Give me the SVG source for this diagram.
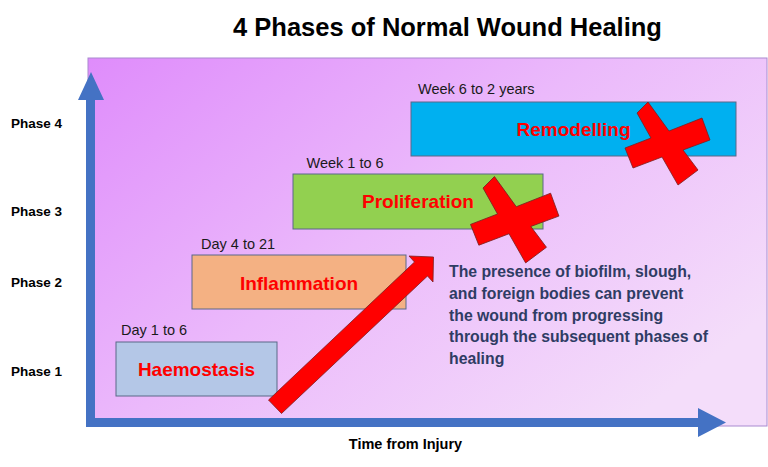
<svg xmlns="http://www.w3.org/2000/svg" width="768" height="467" viewBox="0 0 768 467">
<style>
.lbl{font-family:"Liberation Sans",Arial,sans-serif;font-weight:bold;fill:#000;}
.small{font-family:"Liberation Sans",Arial,sans-serif;font-size:14.5px;fill:#1a1a1a;}
.phase{font-family:"Liberation Sans",Arial,sans-serif;font-weight:bold;font-size:19px;fill:#ff0000;text-anchor:middle;}
.box{stroke:#5b6987;stroke-width:1;}
.note{font-family:"Liberation Sans",Arial,sans-serif;font-weight:bold;font-size:15.8px;fill:#2f3c64;}
.axis{fill:#4472c4;}
.red{fill:#ff0000;stroke:#7a2020;stroke-width:0.8;}
</style>
<defs>
<linearGradient id="bg" x1="0" y1="0" x2="1" y2="0.7">
<stop offset="0" stop-color="#df8cfb"/>
<stop offset="0.5" stop-color="#ebb9fb"/>
<stop offset="1" stop-color="#f4ddfa"/>
</linearGradient>
<path id="cross" d="M0,0 L11,-11 L32,18 L65,5 L73,27 L46,37 L61,57 L41,72 L25,44 L-4,55 L-12,35 L14,25 Z"/>
</defs>
<rect width="768" height="467" fill="#ffffff"/>
<text class="lbl" x="447.5" y="36" font-size="25.5" text-anchor="middle">4 Phases of Normal Wound Healing</text>
<rect id="panel" x="88" y="58" width="679" height="368" fill="url(#bg)" stroke="#a98ad0" stroke-width="1"/>
<g id="phase-labels">
<text class="lbl" x="11" y="128" font-size="13.5">Phase 4</text>
<text class="lbl" x="11" y="216" font-size="13.5">Phase 3</text>
<text class="lbl" x="11" y="287" font-size="13.5">Phase 2</text>
<text class="lbl" x="11" y="376" font-size="13.5">Phase 1</text>
</g>
<text class="lbl" x="405.5" y="449" font-size="14.5" text-anchor="middle">Time from Injury</text>
<g id="haemostasis">
<rect class="box" x="116" y="342" width="161" height="54" fill="#b4c7e7"/>
<text class="small" x="121" y="335">Day 1 to 6</text>
<text class="phase" x="196.5" y="376">Haemostasis</text>
</g>
<g id="inflammation">
<rect class="box" x="192" y="255" width="214" height="54" fill="#f4b183"/>
<text class="small" x="201" y="249">Day 4 to 21</text>
<text class="phase" x="299" y="290">Inflammation</text>
</g>
<g id="proliferation">
<rect class="box" x="293" y="174" width="250" height="55" fill="#92d050"/>
<text class="small" x="306.5" y="168">Week 1 to 6</text>
<text class="phase" x="418" y="208">Proliferation</text>
</g>
<g id="remodelling">
<rect class="box" x="411" y="102" width="325" height="54" fill="#00b0f0"/>
<text class="small" x="418" y="94">Week 6 to 2 years</text>
<text class="phase" x="573.5" y="136">Remodelling</text>
</g>
<g id="axes">
<path class="axis" d="M86,427 L86,100 L78,100 L91,72 L104,100 L95,100 L95,418 L698,418 L698,408 L726,422.5 L698,437 L698,427 Z"/>
</g>
<g id="crosses">
<use href="#cross" class="red" transform="translate(637,113)"/>
<use href="#cross" class="red" transform="translate(483,188) scale(1.04)"/>
</g>
<g id="connectors">
<path class="red" d="M268.5,400 L414.5,262 L409,256 L433.5,257 L433,282 L427.5,276 L281.5,413.5 Z"/>
</g>
<g id="note">
<text class="note" x="449" y="277">The presence of biofilm, slough,</text>
<text class="note" x="449" y="299">and foreign bodies can prevent</text>
<text class="note" x="449" y="320.5">the wound from progressing</text>
<text class="note" x="449" y="342">through the subsequent phases of</text>
<text class="note" x="449" y="364">healing</text>
</g>
</svg>
